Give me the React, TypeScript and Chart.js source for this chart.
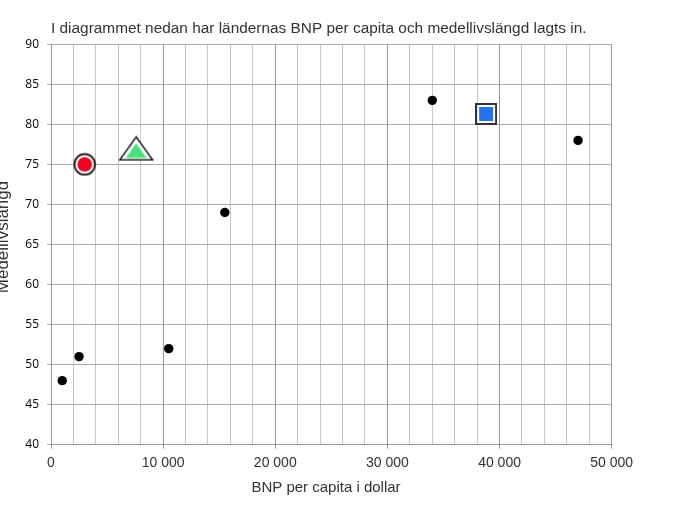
import React, { useEffect, useRef } from "react";
import { Chart, registerables } from "chart.js";

Chart.register(...registerables);

const TITLE = "I diagrammet nedan har ländernas BNP per capita och medellivslängd lagts in.";
const X_TITLE = "BNP per capita i dollar";
const Y_TITLE = "Medellivslängd";

// Black dots: BNP per capita (x), life expectancy (y)
const dotX = [1000, 2500, 10500, 15500, 34000, 47000];
const dotY = [48, 51, 52, 69, 83, 78];

// Highlighted countries
const redX = [3000];
const redY = [75];
const greenX = [7600];
const greenY = [77];
const blueX = [38800];
const blueY = [81.3];

const X_MIN = 0;
const X_MAX = 50000;
const X_STEP = 2000;
const X_LABEL_STEP = 10000;
const Y_MIN = 40;
const Y_MAX = 90;
const Y_STEP = 5;

const toPts = (xs: number[], ys: number[]) => xs.map((x, i) => ({ x, y: ys[i] }));

function circleImg() {
  const c = document.createElement("canvas");
  c.width = 24; c.height = 24;
  const g = c.getContext("2d")!;
  g.beginPath(); g.arc(12, 12, 10.3, 0, Math.PI * 2);
  g.fillStyle = "#ffffff"; g.fill();
  g.lineWidth = 1.8; g.strokeStyle = "#111111"; g.stroke();
  g.beginPath(); g.arc(12, 12, 7.3, 0, Math.PI * 2);
  g.fillStyle = "#f0001e"; g.fill();
  return c;
}
function triangleImg() {
  const c = document.createElement("canvas");
  c.width = 36; c.height = 26;
  const g = c.getContext("2d")!;
  g.beginPath(); g.moveTo(18, 1.5); g.lineTo(34.5, 24.5); g.lineTo(1.5, 24.5); g.closePath();
  g.fillStyle = "#ffffff"; g.fill();
  g.lineWidth = 1.4; g.strokeStyle = "#111111"; g.lineJoin = "miter"; g.stroke();
  g.beginPath(); g.moveTo(18, 8); g.lineTo(28.5, 22.5); g.lineTo(7.5, 22.5); g.closePath();
  g.fillStyle = "#47e27a"; g.fill();
  return c;
}
function squareImg() {
  const c = document.createElement("canvas");
  c.width = 22; c.height = 22;
  const g = c.getContext("2d")!;
  g.fillStyle = "#ffffff"; g.fillRect(0, 0, 22, 22);
  g.lineWidth = 2; g.strokeStyle = "#333333"; g.strokeRect(1, 1, 20, 20);
  g.fillStyle = "#2374f0"; g.fillRect(4, 4, 14, 14);
  return c;
}

const fmt = (v: number) => String(v).replace(/\B(?=(\d{3})+(?!\d))/g, " ");

export default function App() {
  const ref = useRef<HTMLCanvasElement | null>(null);
  useEffect(() => {
    document.body.style.margin = "0";
    const titles = {
      id: "titles",
      afterDraw(chart: any) {
        const ctx = chart.ctx as CanvasRenderingContext2D;
        const a = chart.chartArea;
        ctx.save();
        ctx.fillStyle = "#333333";
        ctx.font = '15.4px "Liberation Sans", Arial, sans-serif';
        ctx.textAlign = "left";
        ctx.textBaseline = "alphabetic";
        ctx.fillText(TITLE, a.left, 33);
        ctx.font = '15px "Liberation Sans", Arial, sans-serif';
        ctx.textAlign = "center";
        ctx.fillText(X_TITLE, 326, 492);
        ctx.translate(8, 237);
        ctx.rotate(-Math.PI / 2);
        ctx.font = '17px "Liberation Sans", Arial, sans-serif';
        ctx.fillText(Y_TITLE, 0, 0);
        ctx.restore();
      },
    };
    const chart = new Chart(ref.current!, {
      type: "scatter",
      data: {
        datasets: [
          { label: "Länder", data: toPts(dotX, dotY), pointRadius: 4.7, pointBackgroundColor: "#000", pointBorderWidth: 0 },
          { label: "Röd", data: toPts(redX, redY), pointStyle: circleImg() as any, pointRadius: 10 },
          { label: "Grön", data: toPts(greenX, greenY), pointStyle: triangleImg() as any, pointRadius: 10 },
          { label: "Blå", data: toPts(blueX, blueY), pointStyle: squareImg() as any, pointRadius: 10 },
        ],
      },
      options: {
        animation: false,
        responsive: false,
        events: [],
        layout: { padding: { top: 44.3, right: 63.3, left: 0, bottom: 0 } },
        plugins: { legend: { display: false }, tooltip: { enabled: false }, title: { display: false } },
        scales: {
          x: {
            type: "linear",
            min: X_MIN, max: X_MAX,
            afterFit: (s: any) => { s.height = 78.3; },
            afterBuildTicks: (s: any) => {
              const t = [];
              for (let v = X_MIN; v <= X_MAX; v += X_STEP) t.push({ value: v });
              s.ticks = t;
            },
            ticks: {
              autoSkip: false, maxRotation: 0, padding: 6, color: "#333333",
              font: { family: '"Liberation Sans", Arial, sans-serif', size: 14 },
              callback: (v: any) => (Number(v) % X_LABEL_STEP === 0 ? fmt(Number(v)) : ""),
            },
            grid: {
              color: (c: any) => (c.tick && c.tick.value % X_LABEL_STEP === 0 ? "#999999" : "#c8c8c8"),
              tickColor: (c: any) => (c.tick && c.tick.value % X_LABEL_STEP === 0 ? "#999999" : "rgba(0,0,0,0)"),
              tickLength: 4,
              lineWidth: 1,
            },
            border: { color: "#999999" },
          },
          y: {
            type: "linear",
            min: Y_MIN, max: Y_MAX,
            afterFit: (s: any) => { s.width = 51; },
            ticks: {
              stepSize: Y_STEP, padding: 8, color: "#000000",
              font: { family: '"Open Sans", sans-serif', size: 12 },
            },
            grid: { color: "#a8a8a8", tickColor: "#a8a8a8", tickLength: 4 },
            border: { color: "#999999" },
          },
        },
      },
      plugins: [titles],
    } as any);
    return () => chart.destroy();
  }, []);
  return (
    <div style={{ width: 675, height: 523 }}>
      <canvas ref={ref} width={675} height={523} style={{ display: "block" }} />
    </div>
  );
}
